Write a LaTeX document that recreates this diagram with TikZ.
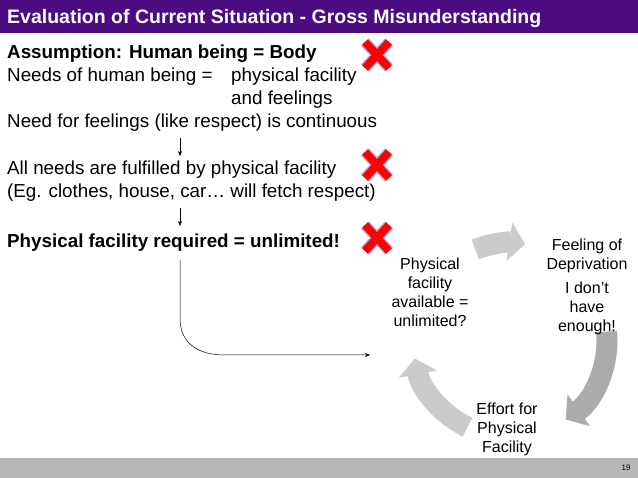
\documentclass[tikz,border=0pt]{standalone}
\usepackage{fontspec}
\setmainfont{Liberation Sans}
\usetikzlibrary{arrows.meta}
\definecolor{titlepurple}{HTML}{4B0C82}
\definecolor{lightg}{HTML}{CBCBCB}
\definecolor{darkg}{HTML}{ABABAB}
\begin{document}
\begin{tikzpicture}[x=1pt,y=-1pt,
  txt/.style={anchor=west,inner sep=0pt,font=\fontsize{18.8}{20}\selectfont},
  ctxt/.style={align=center,inner sep=0pt,font=\fontsize{16}{19}\selectfont},
  xmark/.style={draw=red,line width=8pt,line cap=butt},
  small/.style={-{Stealth[length=5pt,width=4pt]},line width=0.5pt},
  band/.style={line width=21pt,-{Triangle[width=38pt,length=16pt]}}]
\useasboundingbox (0,0) rectangle (638,478);
\fill[titlepurple] (0,0) rectangle (638,33);
\fill[lightg!90!black] (0,458) rectangle (638,478);
\node[anchor=west,text=white,font=\fontsize{19.5}{21}\selectfont\bfseries,inner sep=0pt] (title) at (7,19) {Evaluation of Current Situation - Gross Misunderstanding};
\node[font=\fontsize{8}{9}\selectfont,inner sep=0pt] (pg) at (626,468) {19};
\node[txt,font=\fontsize{18.8}{20}\selectfont\bfseries] (l1) at (7,54) {Assumption: Human being = Body};
\node[txt] (l2) at (7,77) {Needs of human being =};
\node[txt] (l2b) at (231,77) {physical facility};
\node[txt] (l3) at (231,100) {and feelings};
\node[txt] (l4) at (7,123) {Need for feelings (like respect) is continuous};
\node[txt] (l5) at (7,170) {All needs are fulfilled by physical facility};
\node[txt] (l6) at (7,193) {(Eg. clothes, house, car… will fetch respect)};
\node[txt,font=\fontsize{18.8}{20}\selectfont\bfseries] (l7) at (7,243) {Physical facility required = unlimited!};
\coordinate (a1) at (180,138); \coordinate (a2) at (180,156);
\draw[small] (a1) -- (a2);
\coordinate (b1) at (180,208); \coordinate (b2) at (180,226);
\draw[small] (b1) -- (b2);
\coordinate (c1) at (180,260); \coordinate (c2) at (370,355);
\draw[small] (c1) -- (180,318) .. controls (180,345) and (200,355) .. (225,355) -- (c2);
\foreach \cx/\cy in {377/55,377/165,377/238}{
  \begin{scope}[shift={(\cx,\cy)}]
  \draw[xmark,draw=gray!50!blue!40,line width=11pt] (-12,-13) -- (12,13) (-12,13) -- (12,-13);
  \draw[xmark] (-12,-13) -- (12,13) (-12,13) -- (12,-13);
  \end{scope}}
\begin{scope}[shift={(510,340)}]
\begin{scope}[y=1pt]
\coordinate (cc) at (0,0);
\draw[band,lightg] (111:97) arc[start angle=111,end angle=81,radius=97];
\draw[band,darkg] (5:97) arc[start angle=5,end angle=-55,radius=97];
\draw[band,lightg] (244:97) arc[start angle=244,end angle=191,radius=97];
\end{scope}
\end{scope}
\node[ctxt] (n1) at (430,292) {Physical\\facility\\available =\\unlimited?};
\node[ctxt] (n2) at (587,256) {Feeling of\\Deprivation};
\node[ctxt] (n3) at (587,308) {I don’t\\have\\enough!};
\node[ctxt] (n4) at (507,429) {Effort for\\Physical\\Facility};
\end{tikzpicture}
\end{document}
